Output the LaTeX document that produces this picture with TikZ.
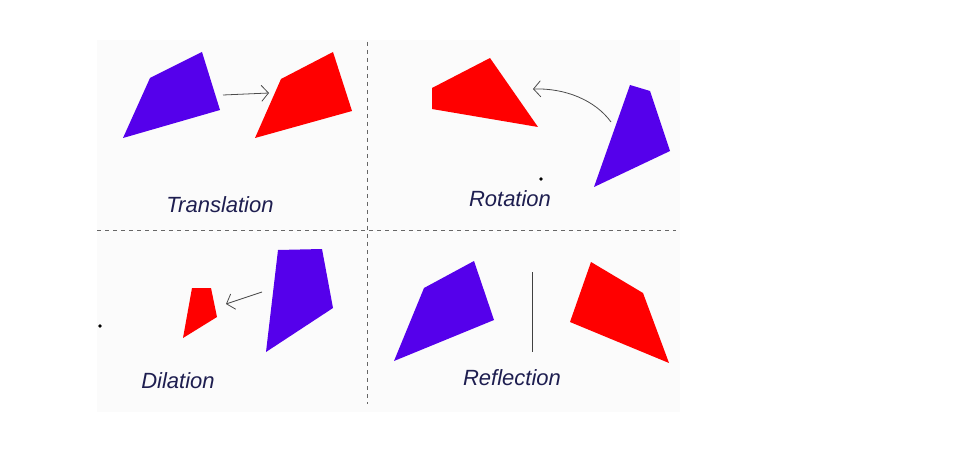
\documentclass[tikz,border=0pt]{standalone}
\usepackage{fontspec}
\setmainfont{Liberation Sans}
\usetikzlibrary{arrows.meta}
\definecolor{bl}{RGB}{85,0,235}
\definecolor{txt}{RGB}{30,30,80}
\tikzset{bshape/.style={fill=bl,draw=none},rshape/.style={fill=red,draw=none},
sep/.style={gray!80!black,dash pattern=on 4pt off 4pt,line width=0.8pt},
arr/.style={gray!60!black,line width=0.8pt,-{Straight Barb[length=7pt,width=16pt]}},
lab/.style={text=txt,font=\fontsize{22}{24}\selectfont\itshape}}
\begin{document}
\begin{tikzpicture}[x=1pt,y=-1pt]
\useasboundingbox (0,0) rectangle (966,449);
\fill[gray!3] (97,40) rectangle (680,412);
\draw[sep] (97,230) -- (676,230);
\draw[sep] (367,42) -- (367,404);
% translation
\fill[bshape] (150,78) -- (202,52) -- (220,110) -- (123,138) -- cycle;
\fill[rshape] (281,79) -- (333,52) -- (352,111) -- (255,138) -- cycle;
\coordinate (ta) at (223,95); \coordinate (tb) at (269,93);
\draw[arr] (ta) -- (tb);
\node[lab] (t) at (220,205) {Translation};
% rotation
\fill[rshape] (432,88) -- (490,58) -- (538,127) -- (432,109) -- cycle;
\fill[bshape] (630,85) -- (650,91) -- (670,151) -- (594,187) -- cycle;
\coordinate (ra) at (611,122); \coordinate (rb) at (533,89);
\draw[arr] (ra) .. controls (595,100) and (565,88) .. (rb);
\fill (541,179) circle (1.8);
\node[lab] (r) at (510,199) {Rotation};
% dilation
\fill[rshape] (192,288) -- (211,288) -- (217,317) -- (183,338) -- cycle;
\fill[bshape] (278,250) -- (322,249) -- (333,308) -- (266,352) -- cycle;
\coordinate (da) at (262,292); \coordinate (db) at (226,304);
\draw[arr] (da) -- (db);
\fill (100,326) circle (1.8);
\node[lab] (d) at (178,381) {Dilation};
% reflection
\fill[bshape] (424,288) -- (474,261) -- (494,320) -- (394,361) -- cycle;
\fill[rshape] (591,262) -- (643,293) -- (669,363) -- (570,322) -- cycle;
\coordinate (la) at (532,272); \coordinate (lb) at (532,352);
\draw[gray!50!black,line width=0.9pt] (la) -- (lb);
\node[lab] (f) at (512,378) {Reflection};
\end{tikzpicture}
\end{document}
